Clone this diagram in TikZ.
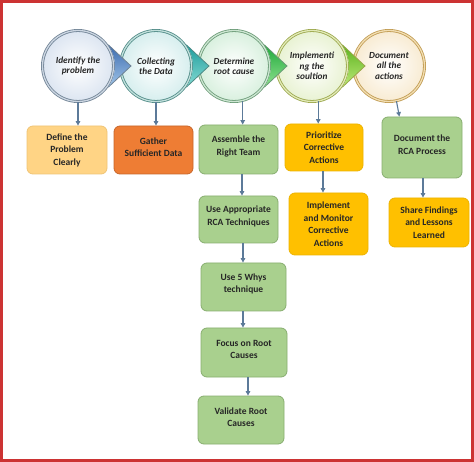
\documentclass[tikz,border=0pt]{standalone}
\usepackage{fontspec}
\setmainfont{Carlito}
\usetikzlibrary{arrows.meta,calc}
\definecolor{frame}{HTML}{CC3333}
\definecolor{conn}{HTML}{5C7A99}
\definecolor{txt}{HTML}{262626}
% circle colours
\definecolor{ca}{HTML}{6F8294}\definecolor{cad}{HTML}{CCD6E2}\definecolor{caf}{HTML}{DCE5F1}
\definecolor{cb}{HTML}{4F8A86}\definecolor{cbd}{HTML}{C2E0DC}\definecolor{cbf}{HTML}{D6EEEE}
\definecolor{cc}{HTML}{6A9A76}\definecolor{ccd}{HTML}{CDE6D2}\definecolor{ccf}{HTML}{D8F0DE}
\definecolor{cd}{HTML}{9AA64A}\definecolor{cdd}{HTML}{E2EAB8}\definecolor{cdf}{HTML}{E8F2D2}
\definecolor{ce}{HTML}{C09A50}\definecolor{ced}{HTML}{F2DEB2}\definecolor{cef}{HTML}{F8EBD2}
% triangle colours
\definecolor{tat}{HTML}{3C6BAE}\definecolor{tab}{HTML}{A2C6EA}
\definecolor{tbt}{HTML}{1E9C9C}\definecolor{tbb}{HTML}{86DCD4}
\definecolor{tct}{HTML}{1FA83A}\definecolor{tcb}{HTML}{90E290}
\definecolor{tdt}{HTML}{5CB21E}\definecolor{tdb}{HTML}{BDEA78}
% box colours
\definecolor{yelf}{HTML}{FFD485}\definecolor{yeld}{HTML}{F0C576}
\definecolor{orf}{HTML}{EE7D34}\definecolor{ord}{HTML}{C8662A}
\definecolor{grf}{HTML}{A9D08E}\definecolor{grd}{HTML}{88AE70}
\definecolor{gof}{HTML}{FFC000}\definecolor{god}{HTML}{EDB300}
\tikzset{
  circ/.style={circle, minimum size=71pt, inner sep=0pt, align=center,
    line width=0.8pt, double distance=1.3pt, text=txt,
    font=\fontsize{9.3}{10.3}\selectfont\bfseries\itshape},
  box/.style={rounded corners=6pt, line width=0.8pt, inner sep=0pt},
  lbl/.style={align=center, inner sep=0pt, text=txt,
    font=\fontsize{9.5}{12.5}\selectfont\bfseries},
  arr/.style={draw=conn, line width=1.1pt, -{Triangle[length=4.5pt,width=4.5pt]}},
  tri/.style={draw=white, line width=0.4pt}
}
\begin{document}
\begin{tikzpicture}[x=1pt,y=-1pt]
\useasboundingbox (0,0) rectangle (474,462);
\fill[white] (0,0) rectangle (474,462);
\draw[frame, line width=3pt] (1.5,1.5) rectangle (472.5,460.5);

% circles
\node[circ, draw=ca, double=cad, inner color=white, outer color=caf] (c1) at (78,66) {Identify the\\problem};
\node[circ, draw=cb, double=cbd, inner color=white, outer color=cbf] (c2) at (156,66) {Collecting\\the Data};
\node[circ, draw=cc, double=ccd, inner color=white, outer color=ccf] (c3) at (234,66) {Determine\\root cause};
\node[circ, draw=cd, double=cdd, inner color=white, outer color=cdf] (c4) at (312,66) {Implementi\\ng the\\soultion};
\node[circ, draw=ce, double=ced, inner color=white, outer color=cef] (c5) at (389,66) {Document\\all the\\actions};

% pointer triangles
\foreach \cx/\t/\b/\d in {78/tat/tab/ca, 156/tbt/tbb/cb, 234/tct/tcb/cc, 312/tdt/tdb/cd}{
  \shade[top color=\t, bottom color=\b]
    (\cx+30.3,44.8) -- (\cx+53,66) -- (\cx+30.3,87.2)
    .. controls (\cx+39.2,74.5) and (\cx+39.2,57.5) .. cycle;
  \draw[\d, line width=0.8pt] (\cx+30.3,44.8) -- (\cx+53,66) -- (\cx+30.3,87.2);
}

% boxes
\node[box, fill=yelf, draw=yeld, minimum width=80pt, minimum height=48pt] (b1) at (67,150) {};
\node[box, fill=orf, draw=ord, minimum width=79pt, minimum height=48pt] (b2) at (153.5,150) {};
\node[box, fill=grf, draw=grd, minimum width=79pt, minimum height=49pt] (b3) at (238.5,149.5) {};
\node[box, fill=gof, draw=god, minimum width=78pt, minimum height=47pt] (b4) at (324,147.5) {};
\node[box, fill=grf, draw=grd, minimum width=80pt, minimum height=61pt] (b5) at (422,147.5) {};
\node[box, fill=grf, draw=grd, minimum width=79pt, minimum height=47pt] (b6) at (238.5,219.5) {};
\node[box, fill=grf, draw=grd, minimum width=85pt, minimum height=48pt] (b7) at (243.5,287) {};
\node[box, fill=grf, draw=grd, minimum width=86pt, minimum height=49pt] (b8) at (244,352.5) {};
\node[box, fill=grf, draw=grd, minimum width=86pt, minimum height=48pt] (b9) at (241,420) {};
\node[box, fill=gof, draw=god, minimum width=79pt, minimum height=62pt] (b10) at (328.5,224) {};
\node[box, fill=gof, draw=god, minimum width=80pt, minimum height=49pt] (b11) at (429,222.5) {};

% labels
\node[lbl] (t1) at (b1.center) {Define the\\Problem\\Clearly};
\node[lbl] (t2) at ($(b2.center)+(0,-3)$) {Gather\\Sufficient Data};
\node[lbl] (t3) at ($(b3.center)+(0,-3)$) {Assemble the\\Right Team};
\node[lbl] (t4) at (b4.center) {Prioritize\\Corrective\\Actions};
\node[lbl] (t5) at ($(b5.center)+(0,-3)$) {Document the\\RCA Process};
\node[lbl] (t6) at ($(b6.center)+(0,-3)$) {Use Appropriate\\RCA Techniques};
\node[lbl] (t7) at ($(b7.center)+(0,-3)$) {Use 5 Whys\\technique};
\node[lbl] (t8) at ($(b8.center)+(0,-3)$) {Focus on Root\\Causes};
\node[lbl] (t9) at ($(b9.center)+(0,-3)$) {Validate Root\\Causes};
\node[lbl] (t10) at (b10.center) {Implement\\and Monitor\\Corrective\\Actions};
\node[lbl] (t11) at (b11.center) {Share Findings\\and Lessons\\Learned};

% connector columns
\coordinate (k1) at (242,0);
\coordinate (k2) at (243,0);
\coordinate (k3) at (243,0);
\coordinate (k4) at (248,0);
\coordinate (k5) at (323,0);
\coordinate (k6) at (423,0);

% connectors
\draw[arr] (c1.south) -- (c1.south |- b1.north);
\draw[arr] (c2.south) -- (c2.south |- b2.north);
\draw[arr] (c3.-76) -- (c3.-76 |- b3.north);
\draw[arr] (c4.-80) -- (c4.-80 |- b4.north);
\draw[arr] (c5.-78) -- ($(b5.north west)!0.22!(b5.north east)$);
\draw[arr] (b3.south -| k1) -- (b6.north -| k1);
\draw[arr] (b6.south -| k2) -- (b7.north -| k2);
\draw[arr] (b7.south -| k3) -- (b8.north -| k3);
\draw[arr] (b8.south -| k4) -- (b9.north -| k4);
\draw[arr] (b4.south -| k5) -- (b10.north -| k5);
\draw[arr] (b5.south -| k6) -- (b11.north -| k6);
\end{tikzpicture}
\end{document}
